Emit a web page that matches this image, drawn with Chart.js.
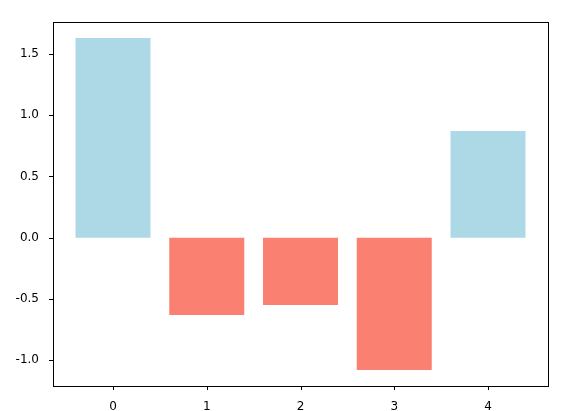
<!DOCTYPE html>
<html><head><script src="https://cdn.jsdelivr.net/npm/chart.js@4"></script>
<style>html,body{margin:0;background:#fff}#w{width:563px;height:411px}</style></head>
<body><div id="w"><canvas id="c"></canvas></div>
<script>
const categories=[0,1,2,3,4];
const values=[1.63,-0.63,-0.55,-1.08,0.87];
const yTicks=[-1.0,-0.5,0.0,0.5,1.0,1.5];
const colors=values.map(v=>v>=0?'#add8e6':'#fa8072');
const frame={id:'frame',afterDraw(ch){const a=ch.chartArea,c=ch.ctx;c.save();c.strokeStyle='#000';c.lineWidth=1;
c.strokeRect(Math.round(a.left)+0.5,Math.round(a.top)+0.5,Math.round(a.right-a.left),Math.round(a.bottom-a.top));
c.beginPath();categories.forEach(v=>{const x=Math.round(ch.scales.x.getPixelForValue(v))+0.5;c.moveTo(x,a.bottom);c.lineTo(x,a.bottom+4);});
yTicks.forEach(v=>{const y=Math.round(ch.scales.y.getPixelForValue(v))+0.5;c.moveTo(a.left,y);c.lineTo(a.left-4,y);});c.stroke();c.restore();}};
new Chart(document.getElementById('c'),{type:'bar',
data:{datasets:[{data:categories.map((c,i)=>({x:c,y:values[i]})),backgroundColor:colors,categoryPercentage:1,barPercentage:0.8}]},
options:{responsive:true,maintainAspectRatio:false,animation:false,layout:{padding:{top:22,right:15}},
plugins:{legend:{display:false},tooltip:{enabled:false}},
scales:{x:{type:'linear',min:-0.64,max:4.64,offset:false,grid:{display:false},border:{display:false},
afterBuildTicks(s){s.ticks=categories.map(v=>({value:v}));},
ticks:{color:'#000',font:{family:'DejaVu Sans',size:12},padding:6,callback:v=>String(v)},afterFit(s){s.height=25;}},
y:{min:-1.21,max:1.76,grid:{display:false},border:{display:false},
afterBuildTicks(s){s.ticks=yTicks.map(v=>({value:v}));},
ticks:{color:'#000',font:{family:'DejaVu Sans',size:12},padding:6,callback:v=>v.toFixed(1)},afterFit(s){s.width=53;}}}},
plugins:[frame]});
</script></body></html>
